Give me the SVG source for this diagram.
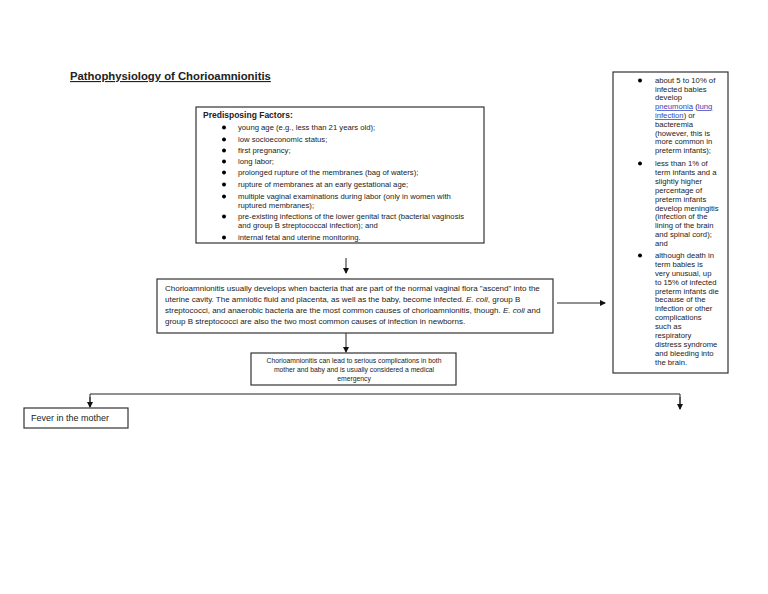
<svg xmlns="http://www.w3.org/2000/svg" width="768" height="594" viewBox="0 0 768 594">
<style>
text{font-family:"Liberation Sans",Arial,sans-serif;fill:#222;}
.t{font-size:7.7px;}
.t2{font-size:8px;}
.t3{font-size:6.8px;}
.b{font-size:8.5px;font-weight:bold;}
.box{fill:#fff;stroke:#333;stroke-width:1.2;}
.ln{stroke:#222;stroke-width:1;fill:none;}
.dot{fill:#000;}
.link{fill:#3344bb;text-decoration:underline;}
</style>
<defs>
<marker id="ah" markerWidth="6" markerHeight="6" refX="5" refY="3" orient="auto" markerUnits="userSpaceOnUse">
<path d="M0,0 L6,3 L0,6 z" fill="#111"/>
</marker>
</defs>
<rect width="768" height="594" fill="#fff"/>
<g id="title">
<text x="70" y="80" style="font-size:11.3px;font-weight:bold;text-decoration:underline">Pathophysiology of Chorioamnionitis</text>
</g>
<g id="connectors">
<line class="ln" x1="346" y1="258" x2="346" y2="273" marker-end="url(#ah)"/>
<line class="ln" x1="346" y1="333" x2="346" y2="352" marker-end="url(#ah)"/>
<line class="ln" x1="557" y1="303" x2="605" y2="303" marker-end="url(#ah)"/>
<polyline class="ln" points="90,407 90,394 680,394 680,409" stroke="#888"/>
<line class="ln" x1="90" y1="397" x2="90" y2="407" marker-end="url(#ah)"/>
<line class="ln" x1="680" y1="397" x2="680" y2="409" marker-end="url(#ah)"/>
</g>
<g id="predisposing">
<rect class="box" x="196" y="107" width="288" height="136"/>
<text class="b" x="203" y="118">Predisposing Factors:</text>
<circle class="dot" cx="224" cy="127.5" r="2"/><text class="t" x="238" y="130">young age (e.g., less than 21 years old);</text>
<circle class="dot" cx="224" cy="139.5" r="2"/><text class="t" x="238" y="142">low socioeconomic status;</text>
<circle class="dot" cx="224" cy="150.5" r="2"/><text class="t" x="238" y="153">first pregnancy;</text>
<circle class="dot" cx="224" cy="161.5" r="2"/><text class="t" x="238" y="164">long labor;</text>
<circle class="dot" cx="224" cy="172.5" r="2"/><text class="t" x="238" y="175">prolonged rupture of the membranes (bag of waters);</text>
<circle class="dot" cx="224" cy="184.5" r="2"/><text class="t" x="238" y="187">rupture of membranes at an early gestational age;</text>
<circle class="dot" cx="224" cy="196.5" r="2"/><text class="t" x="238" y="199">multiple vaginal examinations during labor (only in women with</text>
<text class="t" x="238" y="208">ruptured membranes);</text>
<circle class="dot" cx="224" cy="216.5" r="2"/><text class="t" x="238" y="219">pre-existing infections of the lower genital tract (bacterial vaginosis</text>
<text class="t" x="238" y="228">and group B streptococcal infection); and</text>
<circle class="dot" cx="224" cy="237.5" r="2"/><text class="t" x="238" y="240">internal fetal and uterine monitoring.</text>
</g>
<g id="cause">
<rect class="box" x="157" y="279" width="396" height="54"/>
<text class="t2" x="165" y="291">Chorioamnionitis usually develops when bacteria that are part of the normal vaginal flora "ascend" into the</text>
<text class="t2" x="165" y="302">uterine cavity. The amniotic fluid and placenta, as well as the baby, become infected. <tspan font-style="italic">E. coli</tspan>, group B</text>
<text class="t2" x="165" y="313">streptococci, and anaerobic bacteria are the most common causes of chorioamnionitis, though. <tspan font-style="italic">E. coli</tspan> and</text>
<text class="t2" x="165" y="324">group B streptococci are also the two most common causes of infection in newborns.</text>
</g>
<g id="complications">
<rect class="box" x="251" y="353" width="205" height="32"/>
<text class="t3" x="354" y="363" text-anchor="middle">Chorioamnionitis can lead to serious complications in both</text>
<text class="t3" x="354" y="372" text-anchor="middle">mother and baby and is usually considered a medical</text>
<text class="t3" x="354" y="381" text-anchor="middle">emergency</text>
</g>
<g id="baby-outcomes">
<rect class="box" x="613" y="72" width="115" height="301"/>
<circle class="dot" cx="640" cy="80.5" r="2"/>
<text class="t" x="655" y="83">about 5 to 10% of</text>
<text class="t" x="655" y="92">infected babies</text>
<text class="t" x="655" y="100">develop</text>
<text class="t" x="655" y="109"><tspan class="link">pneumonia</tspan> (<tspan class="link">lung</tspan></text>
<text class="t" x="655" y="118"><tspan class="link">infection</tspan>) or</text>
<text class="t" x="655" y="127">bacteremia</text>
<text class="t" x="655" y="136">(however, this is</text>
<text class="t" x="655" y="144">more common in</text>
<text class="t" x="655" y="153">preterm infants);</text>
<circle class="dot" cx="640" cy="163.5" r="2"/>
<text class="t" x="655" y="166">less than 1% of</text>
<text class="t" x="655" y="175">term infants and a</text>
<text class="t" x="655" y="184">slightly higher</text>
<text class="t" x="655" y="193">percentage of</text>
<text class="t" x="655" y="202">preterm infants</text>
<text class="t" x="655" y="211">develop meningitis</text>
<text class="t" x="655" y="219">(infection of the</text>
<text class="t" x="655" y="228">lining of the brain</text>
<text class="t" x="655" y="237">and spinal cord);</text>
<text class="t" x="655" y="246">and</text>
<circle class="dot" cx="640" cy="255.5" r="2"/>
<text class="t" x="655" y="258">although death in</text>
<text class="t" x="655" y="267">term babies is</text>
<text class="t" x="655" y="276">very unusual, up</text>
<text class="t" x="655" y="285">to 15% of infected</text>
<text class="t" x="655" y="294">preterm infants die</text>
<text class="t" x="655" y="302">because of the</text>
<text class="t" x="655" y="311">infection or other</text>
<text class="t" x="655" y="320">complications</text>
<text class="t" x="655" y="329">such as</text>
<text class="t" x="655" y="338">respiratory</text>
<text class="t" x="655" y="347">distress syndrome</text>
<text class="t" x="655" y="356">and bleeding into</text>
<text class="t" x="655" y="365">the brain.</text>
</g>
<g id="fever">
<rect class="box" x="24" y="408" width="104" height="20"/>
<text x="31" y="421" style="font-size:9px">Fever in the mother</text>
</g>
</svg>
